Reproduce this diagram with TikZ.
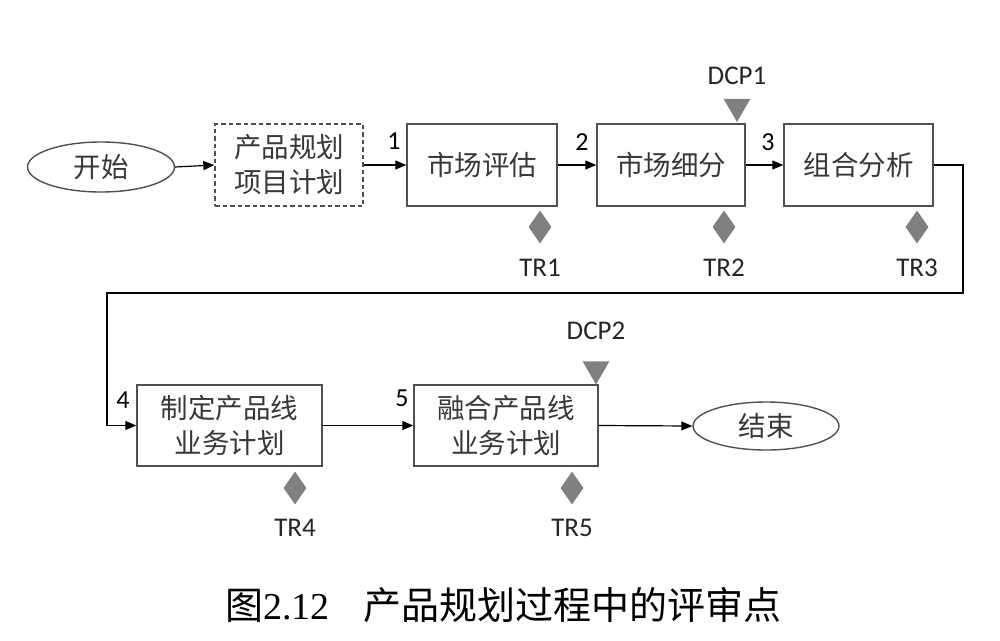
\documentclass[tikz,border=0pt]{standalone}
\usepackage{fontspec}
\setmainfont{Liberation Serif}
\newfontfamily\cjk{Noto Sans CJK SC}
\newfontfamily\lab{Carlito}
\usetikzlibrary{arrows.meta,shapes.geometric}
\definecolor{edgegray}{HTML}{505050}
\definecolor{txtgray}{HTML}{383838}
\definecolor{mkgray}{HTML}{808080}
\tikzset{
  box/.style={draw=edgegray,line width=1.4pt,minimum height=82pt,inner sep=0pt,align=center,
    font=\cjk\fontsize{27.5}{35}\selectfont,text=txtgray},
  ell/.style={draw=edgegray,line width=1.4pt,ellipse,inner sep=0pt,
    font=\cjk\fontsize{27.5}{30}\selectfont,text=txtgray},
  arr/.style={draw=black,line width=1.2pt,-{Triangle[length=11pt,width=9pt]}},
  num/.style={font=\lab\fontsize{26}{28}\selectfont,inner sep=0pt},
  lbl/.style={font=\lab\fontsize{27}{29}\selectfont,inner sep=0pt,text=black!85},
  trmk/.style={diamond,fill=mkgray,minimum width=23pt,minimum height=33pt,inner sep=0pt},
  dcpmk/.style={regular polygon,regular polygon sides=3,shape border rotate=180,
    fill=mkgray,minimum size=31pt,inner sep=0pt},
}
\begin{document}
\begin{tikzpicture}[x=1pt,y=-1pt]
\useasboundingbox[fill=white] (0,0) rectangle (1000,640);
% nodes
\node[ell,minimum width=147pt,minimum height=50pt] (start) at (101,167) {开始};
\node[box,dash pattern=on 4.5pt off 3pt,minimum width=148pt] (plan) at (289,165) {产品规划\\项目计划};
\node[box,minimum width=150pt] (b1) at (482,165) {市场评估};
\node[box,minimum width=148pt] (b2) at (671,165) {市场细分};
\node[box,minimum width=149pt] (b3) at (858.5,165) {组合分析};
\node[box,minimum width=185pt,minimum height=81pt] (b4) at (229.5,425.5) {制定产品线\\业务计划};
\node[box,minimum width=184pt,minimum height=81pt] (b5) at (506,425.5) {融合产品线\\业务计划};
\node[ell,minimum width=146pt,minimum height=48pt] (end) at (766,426) {结束};
% numbers
\node[num] (n1) at (394,141) {1};
\node[num] (n2) at (582,142) {2};
\node[num] (n3) at (768,142) {3};
\node[num] (n4) at (123,400) {4};
\node[num] (n5) at (402,398) {5};
% connectors
\coordinate (c1) at (963,293);
\coordinate (c2) at (107,293);
\draw[arr] (start.east) -- (plan.west);
\draw[arr] (plan.east) -- (b1.west);
\draw[arr] (b1.east) -- (b2.west);
\draw[arr] (b2.east) -- (b3.west);
\draw[arr] (b3.east) -| (c1) -- (c2) |- (b4.west);
\draw[arr] (b4.east) -- (b5.west);
\draw[arr] (b5.east) -- (end.west);
% review markers
\node[trmk] (d1) at (540,227) {};
\node[trmk] (d2) at (724,227) {};
\node[trmk] (d3) at (917,227) {};
\node[trmk] (d4) at (295,488) {};
\node[trmk] (d5) at (572,488) {};
\node[lbl] (t1) at (540,268) {TR1};
\node[lbl] (t2) at (724,268) {TR2};
\node[lbl] (t3) at (917,268) {TR3};
\node[lbl] (t4) at (295,528) {TR4};
\node[lbl] (t5) at (572,528) {TR5};
\node[dcpmk] (p1) at (737,106.5) {};
\node[dcpmk] (p2) at (596,369) {};
\node[lbl] (dcp1) at (737,76) {DCP1};
\node[lbl] (dcp2) at (596,331) {DCP2};
% caption
\node[inner sep=0pt,anchor=west,font=\fontsize{38}{42}\selectfont] (cap) at (225,605)
  {{\cjk 图}2.12\hspace{34pt}{\cjk 产品规划过程中的评审点}};
\end{tikzpicture}
\end{document}
